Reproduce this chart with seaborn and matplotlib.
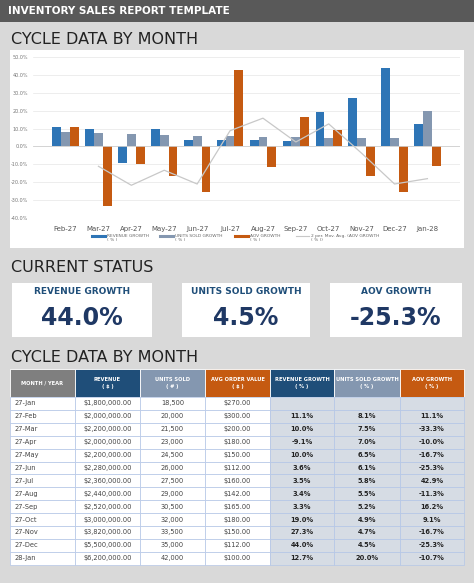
import numpy as np
import pandas as pd
import seaborn as sns
import matplotlib.pyplot as plt
from matplotlib.patches import Rectangle

months = ["Feb-27","Mar-27","Apr-27","May-27","Jun-27","Jul-27","Aug-27","Sep-27","Oct-27","Nov-27","Dec-27","Jan-28"]
rev_growth = [11.1,10.0,-9.1,10.0,3.6,3.5,3.4,3.3,19.0,27.3,44.0,12.7]
units_growth = [8.1,7.5,7.0,6.5,6.1,5.8,5.5,5.2,4.9,4.7,4.5,20.0]
aov_growth = [11.1,-33.3,-10.0,-16.7,-25.3,42.9,-11.3,16.2,9.1,-16.7,-25.3,-10.7]
mov_avg = [np.nan,-11.1,-21.7,-13.3,-21.0,8.8,15.8,2.5,12.6,-3.8,-21.0,-18.0]

tbl_month = ["27-Jan","27-Feb","27-Mar","27-Apr","27-May","27-Jun","27-Jul","27-Aug","27-Sep","27-Oct","27-Nov","27-Dec","28-Jan"]
tbl_rev = ["$1,800,000.00","$2,000,000.00","$2,200,000.00","$2,000,000.00","$2,200,000.00","$2,280,000.00","$2,360,000.00",
           "$2,440,000.00","$2,520,000.00","$3,000,000.00","$3,820,000.00","$5,500,000.00","$6,200,000.00"]
tbl_units = ["18,500","20,000","21,500","23,000","24,500","26,000","27,500","29,000","30,500","32,000","33,500","35,000","42,000"]
tbl_aov = ["$270.00","$300.00","$200.00","$180.00","$150.00","$112.00","$160.00","$142.00","$165.00","$180.00","$150.00","$112.00","$100.00"]
tbl_revg = [""] + ["11.1%","10.0%","-9.1%","10.0%","3.6%","3.5%","3.4%","3.3%","19.0%","27.3%","44.0%","12.7%"]
tbl_unitg = [""] + ["8.1%","7.5%","7.0%","6.5%","6.1%","5.8%","5.5%","5.2%","4.9%","4.7%","4.5%","20.0%"]
tbl_aovg = [""] + ["11.1%","-33.3%","-10.0%","-16.7%","-25.3%","42.9%","-11.3%","16.2%","9.1%","-16.7%","-25.3%","-10.7%"]

BLUE, GRAYB, ORANGE, NAVY = "#2e75b6", "#8497b0", "#c55a11", "#1f4e79"
W, H = 474, 583
fig = plt.figure(figsize=(W/100, H/100), dpi=100, facecolor="#d9d9d9")
bg = fig.add_axes([0, 0, 1, 1]); bg.set_xlim(0, W); bg.set_ylim(H, 0); bg.axis("off")

def box(x, y, w, h, fc, ec="none", lw=0.5):
    bg.add_patch(Rectangle((x, y), w, h, fc=fc, ec=ec, lw=lw))

box(0, 0, W, 22, "#595959")
bg.text(8, 11, "INVENTORY SALES REPORT TEMPLATE", color="white", fontsize=7.5, weight="bold", va="center")
for y, t in [(40, "CYCLE DATA BY MONTH"), (268, "CURRENT STATUS"), (358, "CYCLE DATA BY MONTH")]:
    bg.text(11, y, t, fontsize=11.5, va="center", color="#222222")

# chart panel
box(10, 50, 454, 198, "white")
ax = fig.add_axes([33/W, 1-218/H, 427/W, 161/H])
df = pd.DataFrame({"m": months * 3,
                   "v": rev_growth + units_growth + aov_growth,
                   "s": ["r"]*12 + ["u"]*12 + ["a"]*12})
sns.barplot(data=df, x="m", y="v", hue="s", palette=[BLUE, GRAYB, ORANGE], ax=ax, width=0.8,
            saturation=1, legend=False)
ax.plot(range(12), mov_avg, color="#c8c8c8", lw=0.9)
ax.set_ylim(-40, 50); ax.set_yticks(range(-40, 51, 10))
ax.set_yticklabels([f"{v:.1f}%" for v in range(-40, 51, 10)], fontsize=3.5, color="#777777")
ax.tick_params(axis="x", labelsize=5, colors="#555555", length=0, pad=6)
ax.tick_params(axis="y", length=0)
ax.set_xlabel(""); ax.set_ylabel("")
ax.grid(axis="y", color="#e6e6e6", lw=0.5); ax.set_axisbelow(True)
ax.axhline(0, color="#d0d0d0", lw=0.6)
for s in ax.spines.values(): s.set_visible(False)
leg = [(92, BLUE, "REVENUE GROWTH\n( % )"), (160, GRAYB, "UNITS SOLD GROWTH\n( % )"),
       (235, ORANGE, "AOV GROWTH\n( % )"), (296, "#c8c8c8", "2 per. Mov. Avg. (AOV GROWTH\n( % ))")]
for x, c, t in leg:
    bg.plot([x, x+13], [236, 236], color=c, lw=2.2 if c != "#c8c8c8" else 0.8)
    bg.text(x+15, 234, t, fontsize=3.2, color="#666666", va="top", linespacing=1.1)

# status cards
cards = [(12, 140, "REVENUE GROWTH", "44.0%"), (182, 128, "UNITS SOLD GROWTH", "4.5%"),
         (330, 132, "AOV GROWTH", "-25.3%")]
for x, w, t, v in cards:
    box(x, 283, w, 54, "white")
    bg.text(x+w/2, 291, t, ha="center", va="center", fontsize=6.5, weight="bold", color=NAVY)
    bg.text(x+w/2, 318, v, ha="center", va="center", fontsize=17, weight="bold", color="#1f3864")

# table
cols = [10, 75, 140, 205, 270, 334, 400, 464]
hdr = ["MONTH / YEAR", "REVENUE\n( $ )", "UNITS SOLD\n( # )", "AVG ORDER VALUE\n( $ )",
       "REVENUE GROWTH\n( % )", "UNITS SOLD GROWTH\n( % )", "AOV GROWTH\n( % )"]
hcol = ["#7f7f7f", NAVY, GRAYB, ORANGE, NAVY, GRAYB, ORANGE]
y0, hh, rh = 369, 28, 12.9
for i in range(7):
    box(cols[i], y0, cols[i+1]-cols[i], hh, hcol[i], "white", 0.6)
    bg.text((cols[i]+cols[i+1])/2, y0+hh/2, hdr[i], ha="center", va="center", fontsize=3.7,
            weight="bold", color="white", linespacing=1.4)
data_cols = [tbl_month, tbl_rev, tbl_units, tbl_aov, tbl_revg, tbl_unitg, tbl_aovg]
for r in range(13):
    y = y0 + hh + r*rh
    for i in range(7):
        fc = "white" if i < 4 else "#d6dce4"
        box(cols[i], y, cols[i+1]-cols[i], rh, fc, "#b4c6e7", 0.5)
        txt = data_cols[i][r]
        if i == 0:
            bg.text(cols[i]+5, y+rh/2, txt, va="center", fontsize=4.8, color="#444444")
        else:
            bg.text((cols[i]+cols[i+1])/2, y+rh/2, txt, ha="center", va="center", fontsize=4.8,
                    color="#222222" if i >= 4 else "#444444", weight="bold" if i >= 4 else "normal")

fig.savefig("out.png", dpi=100, facecolor=fig.get_facecolor())
